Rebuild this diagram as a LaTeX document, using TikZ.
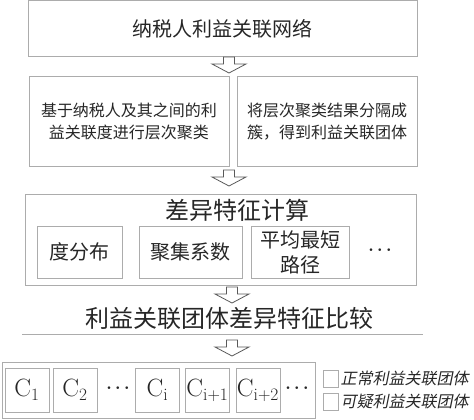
\documentclass[tikz,border=0pt]{standalone}
\usepackage{fontspec}
\usetikzlibrary{calc,positioning}
\newfontfamily\cjk{Noto Sans CJK SC}
\newfontfamily\cjkit[FakeSlant=0.2]{Noto Sans CJK SC}
\tikzset{box/.style={draw=gray!65, line width=1pt, inner sep=0pt, align=center,
    text=black!85, font=\cjk},
  dots/.style={text=black!85, font=\fontsize{19}{20}\selectfont\boldmath},
  pics/holdown/.style={code={%
    \draw[black!65, line width=0.8pt, fill=white] (-5.5,0) -- (5.5,0) -- (5.5,7)
      -- (17,7) -- (0,16) -- (-17,7) -- (-5.5,7) -- cycle;}}}
\begin{document}
\begin{tikzpicture}[x=1pt,y=-1pt]
    \useasboundingbox (0,0) rectangle (474,420);
    % network
    \node[box, minimum width=389pt, minimum height=56pt, font=\cjk\fontsize{20}{22}\selectfont]
      (net) at (222.5,29) {纳税人利益关联网络};
    \pic at (229,57) {holdown};
    % clustering
    \node[box, minimum width=200pt, minimum height=89pt, font=\cjk\fontsize{16}{22}\selectfont]
      (clus) at (129,121.5) {基于纳税人及其之间的利\\益关联度进行层次聚类};
    \node[box, minimum width=180pt, minimum height=89pt, font=\cjk\fontsize{16}{22}\selectfont]
      (grp) at (327,121.5) {将层次聚类结果分隔成\\簇，得到利益关联团体};
    \pic at (229,170) {holdown};
    % features
    \node[box, minimum width=391pt, minimum height=91pt] (feat) at (220.5,239.5) {};
    \node[text=black!85, font=\cjk\fontsize{24}{26}\selectfont] (ftitle) at (237,210) {差异特征计算};
    \node[box, minimum width=85pt, minimum height=52pt, font=\cjk\fontsize{20}{25}\selectfont]
      (deg) at (79.5,252) {度分布};
    \node[box, minimum width=103pt, minimum height=52pt, font=\cjk\fontsize{20}{25}\selectfont]
      (cc) at (190.5,252) {聚集系数};
    \node[box, minimum width=98pt, minimum height=52pt, font=\cjk\fontsize{20}{25}\selectfont]
      (apl) at (300,252) {平均最短\\路径};
    \node[dots] (fdots) at (380,250) {$\cdots$};
    \pic at (232,287) {holdown};
    % comparison
    \node[text=black!85, font=\cjk\fontsize{24}{26}\selectfont] (cmp) at (229,318) {利益关联团体差异特征比较};
    \draw[gray!65, line width=0.8pt] (22,334) -- (423,334);
    \pic at (232,340) {holdown};
    % communities
    \node[box, minimum width=313pt, minimum height=56pt] (comm) at (158.5,390) {};
    \foreach \n/\x/\lab in {c1/27/{\mathrm{C}_1}, c2/75/{\mathrm{C}_2},
        ci/157.5/{\mathrm{C}_{\mathrm{i}}}, ci1/207.5/{\mathrm{C}_{\mathrm{i+1}}},
        ci2/258/{\mathrm{C}_{\mathrm{i+2}}}}
      \node[box, minimum width=44pt, minimum height=44pt, font=\fontsize{25}{26}\selectfont]
        (\n) at (\x,390) {$\lab$};
    \node[dots] (cdots1) at (118,388) {$\cdots$};
    \node[dots] (cdots2) at (297,388) {$\cdots$};
    % legend
    \node[box, minimum width=15pt, minimum height=17pt] (lgn) at (330.5,378.5) {};
    \node[box, minimum width=15pt, minimum height=17pt] (lgs) at (330.5,401.5) {};
    \node[right=2pt of lgn, inner sep=0pt, text=black!85, font=\cjkit\fontsize{16}{18}\selectfont]
      (lgnt) {正常利益关联团体};
    \node[right=2pt of lgs, inner sep=0pt, text=black!85, font=\cjkit\fontsize{16}{18}\selectfont]
      (lgst) {可疑利益关联团体};
\end{tikzpicture}
\end{document}
